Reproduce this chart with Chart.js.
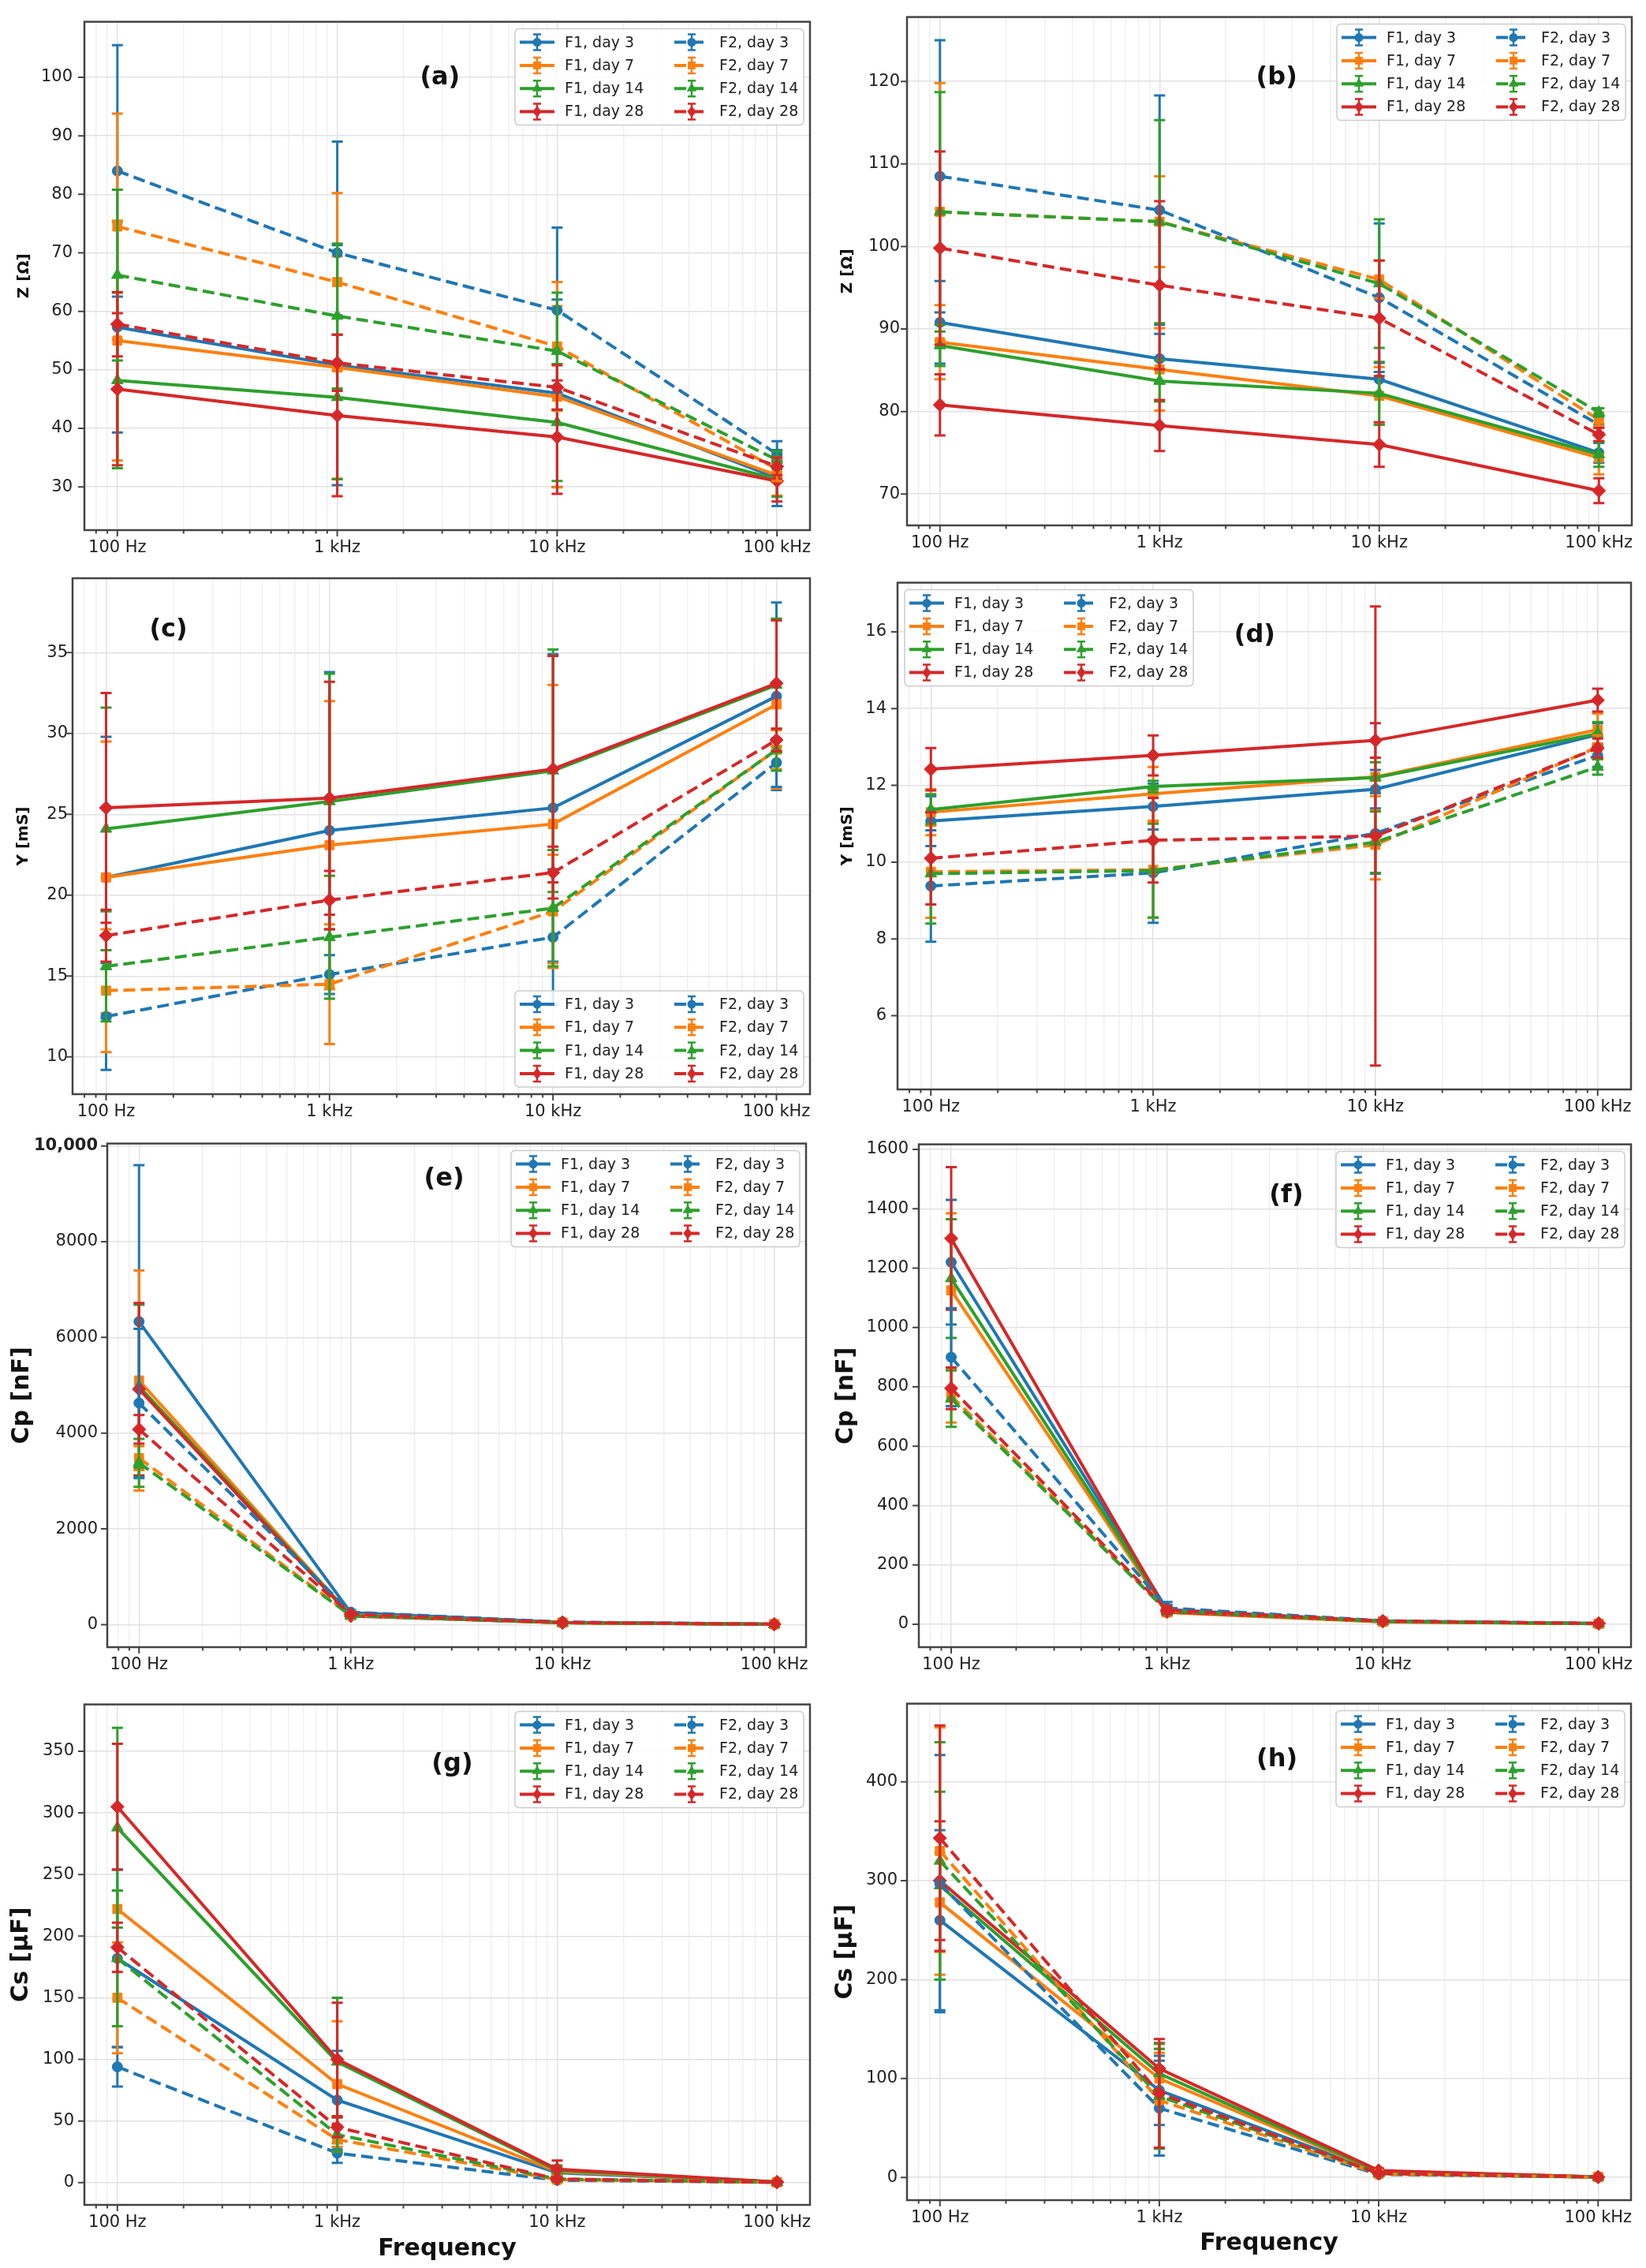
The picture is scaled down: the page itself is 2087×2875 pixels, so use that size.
<!DOCTYPE html>
<html>
<head>
<meta charset="utf-8">
<title>Z, Y, Cp, Cs vs frequency</title>
<script src="https://cdn.jsdelivr.net/npm/chart.js@4.4.1/dist/chart.umd.min.js"></script>
<style>
  html, body { margin: 0; padding: 0; background: #ffffff; }
  body { position: relative; width: 2087px; height: 2875px; overflow: hidden; }
  canvas { position: absolute; }
</style>
</head>
<body>
<canvas id="chart_a"></canvas>
<canvas id="chart_b"></canvas>
<canvas id="chart_c"></canvas>
<canvas id="chart_d"></canvas>
<canvas id="chart_e"></canvas>
<canvas id="chart_f"></canvas>
<canvas id="chart_g"></canvas>
<canvas id="chart_h"></canvas>
<script>
// ---- data ----
const freqs = [100, 1000, 10000, 100000];
const xTickLabels = ['100 Hz', '1 kHz', '10 kHz', '100 kHz'];
const xMinorTicks = [80, 90, 200, 300, 400, 500, 600, 700, 800, 900,
    2000, 3000, 4000, 5000, 6000, 7000, 8000, 9000,
    20000, 30000, 40000, 50000, 60000, 70000, 80000, 90000];
const seriesNames = ['F1, day 3', 'F1, day 7', 'F1, day 14', 'F1, day 28',
    'F2, day 3', 'F2, day 7', 'F2, day 14', 'F2, day 28'];

// rows follow seriesNames, columns follow freqs
const aZ = [
    [57.3, 50.8, 46.0, 31.5],
    [55.0, 50.4, 45.4, 32.0],
    [48.2, 45.3, 41.0, 31.3],
    [46.7, 42.2, 38.5, 31.0],
    [84.0, 70.0, 60.2, 35.6],
    [74.5, 65.0, 54.0, 33.0],
    [66.2, 59.2, 53.2, 34.6],
    [57.8, 51.2, 47.0, 33.5]
];
const aZErr = [
    [18.0, 20.5, 16.0, 4.8],
    [20.5, 19.0, 15.5, 3.5],
    [15.0, 14.0, 10.0, 3.0],
    [13.0, 13.8, 9.7, 3.5],
    [21.5, 19.0, 14.1, 2.2],
    [19.3, 15.2, 11.0, 2.0],
    [14.6, 12.4, 10.0, 1.5],
    [5.5, 4.8, 3.8, 1.5]
];
const aTicks = [30, 40, 50, 60, 70, 80, 90, 100];

const bZ = [
    [90.8, 86.4, 83.9, 75.0],
    [88.4, 85.1, 81.9, 74.4],
    [88.0, 83.7, 82.2, 74.8],
    [80.8, 78.3, 76.0, 70.4],
    [108.5, 104.4, 93.8, 78.4],
    [104.2, 103.0, 96.0, 79.0],
    [104.2, 103.0, 95.5, 79.9],
    [99.8, 95.3, 91.3, 77.2]
];
const bZErr = [
    [5.0, 3.0, 2.0, 1.2],
    [4.5, 5.0, 3.5, 2.0],
    [2.5, 2.5, 3.8, 1.5],
    [3.7, 3.1, 2.7, 1.5],
    [16.5, 13.9, 9.0, 1.0],
    [15.6, 5.5, 2.3, 0.8],
    [14.5, 12.3, 7.8, 0.5],
    [11.7, 10.2, 7.0, 0.8]
];
const bTicks = [70, 80, 90, 100, 110, 120];

const cY = [
    [21.1, 24.0, 25.4, 32.3],
    [21.1, 23.1, 24.4, 31.8],
    [24.1, 25.8, 27.7, 33.0],
    [25.4, 26.0, 27.8, 33.1],
    [12.5, 15.1, 17.4, 28.2],
    [14.1, 14.5, 19.0, 29.0],
    [15.6, 17.4, 19.2, 29.0],
    [17.5, 19.7, 21.4, 29.6]
];
const cYErr = [
    [8.7, 9.8, 9.5, 5.8],
    [8.4, 8.9, 8.6, 5.2],
    [7.5, 7.9, 7.5, 4.1],
    [7.1, 7.2, 7.0, 3.9],
    [3.3, 1.2, 4.2, 1.5],
    [3.8, 3.7, 3.5, 1.2],
    [3.4, 3.8, 3.6, 1.3],
    [1.6, 1.8, 1.6, 0.7]
];
const cTicks = [10, 15, 20, 25, 30, 35];

const dY = [
    [11.07, 11.45, 11.90, 13.32],
    [11.30, 11.78, 12.22, 13.45],
    [11.37, 11.97, 12.20, 13.35],
    [12.42, 12.78, 13.17, 14.22],
    [9.38, 9.72, 10.75, 12.78],
    [9.75, 9.80, 10.45, 13.00],
    [9.70, 9.78, 10.52, 12.48],
    [10.10, 10.57, 10.68, 12.97]
];
const dYErr = [
    [0.65, 0.60, 0.50, 0.30],
    [0.60, 0.70, 0.50, 0.42],
    [0.40, 0.15, 0.40, 0.30],
    [0.55, 0.52, 0.45, 0.30],
    [1.45, 1.30, 1.05, 0.30],
    [1.20, 1.25, 0.90, 0.30],
    [1.30, 1.22, 0.80, 0.20],
    [1.20, 1.10, 5.98, 0.25]
];
const dTicks = [6, 8, 10, 12, 14, 16];

const eCp = [
    [6330, 250, 50, 10],
    [5100, 200, 45, 8],
    [4980, 190, 40, 8],
    [4920, 180, 40, 8],
    [4630, 260, 55, 10],
    [3480, 200, 40, 8],
    [3380, 190, 40, 8],
    [4080, 220, 45, 9]
];
const eCpErr = [
    [3270, 40, 10, 2],
    [2300, 30, 8, 2],
    [1700, 30, 8, 2],
    [1800, 40, 8, 2],
    [1550, 40, 10, 2],
    [250, 30, 8, 2],
    [500, 30, 8, 2],
    [300, 30, 8, 2]
];
const eTicks = [0, 2000, 4000, 6000, 8000, 10000];

const fCp = [
    [1220, 50, 10, 3],
    [1125, 40, 8, 2],
    [1165, 45, 9, 2],
    [1300, 42, 10, 3],
    [900, 55, 12, 3],
    [770, 45, 10, 2],
    [760, 45, 10, 2],
    [795, 48, 11, 3]
];
const fCpErr = [
    [210, 15, 3, 1],
    [260, 10, 2, 1],
    [200, 12, 3, 1],
    [240, 10, 3, 1],
    [165, 20, 4, 1],
    [90, 12, 3, 1],
    [95, 12, 3, 1],
    [70, 12, 3, 1]
];
const fTicks = [0, 200, 400, 600, 800, 1000, 1200, 1400, 1600];

const gCs = [
    [182, 67, 8, 0.5],
    [222, 80, 9, 0.5],
    [288, 98, 10, 0.5],
    [305, 100, 11, 0.5],
    [94, 24, 2, 0.3],
    [150, 35, 2.5, 0.3],
    [182, 39, 3, 0.3],
    [191, 45, 3, 0.3]
];
const gCsErr = [
    [72, 40, 3, 0.3],
    [15, 51, 3, 0.3],
    [81, 52, 4, 0.3],
    [51, 46, 7, 0.3],
    [16, 8, 1, 0.2],
    [45, 10, 1, 0.2],
    [55, 14, 1, 0.2],
    [20, 8, 1, 0.2]
];
const gTicks = [0, 50, 100, 150, 200, 250, 300, 350];

const hCs = [
    [260, 88, 5, 0.5],
    [278, 100, 5.5, 0.5],
    [295, 105, 6, 0.5],
    [300, 110, 7, 0.5],
    [297, 70, 3, 0.3],
    [330, 78, 3.5, 0.3],
    [320, 82, 4, 0.3],
    [343, 85, 4, 0.3]
];
const hCsErr = [
    [91, 35, 2, 0.3],
    [50, 30, 2, 0.3],
    [95, 25, 2, 0.3],
    [60, 26, 2, 0.3],
    [130, 48, 1, 0.2],
    [125, 48, 1, 0.2],
    [120, 53, 1, 0.2],
    [114, 55, 1, 0.2]
];
const hTicks = [0, 100, 200, 300, 400];

// ---- styles ----
const colors = ['#1f77b4', '#ff7f0e', '#2ca02c', '#d62728'];
const markers = ['circle', 'rect', 'triangle', 'rectRot'];
const markerRadius = [6.5, 8.3, 8.5, 8.5];
const fontFamily = "'DejaVu Sans', sans-serif";
const xMin = 70.8, xMax = 141254;

Chart.defaults.color = '#222';
Chart.defaults.font.family = fontFamily;

// page layout of each panel; ca = plot frame inside the canvas
const panels = [
    {id: 'a', left: 0, top: 0, w: 1045, h: 712, ca: {left: 107, top: 24, right: 1027, bottom: 672},
     values: aZ, errors: aZErr, yTicks: aTicks, yMin: 22.6, yMax: 109.5,
     yTitle: 'Z [Ω]', titleSize: 20, titlePad: 19, tickPad: 15, tag: '(a)', tagAt: [0.49, 0.11], legend: 'upper right'},
    {id: 'b', left: 1045, top: 0, w: 1042, h: 712, ca: {left: 105, top: 20, right: 1024, bottom: 666},
     values: bZ, errors: bZErr, yTicks: bTicks, yMin: 66.2, yMax: 127.8,
     yTitle: 'Z [Ω]', titleSize: 20, titlePad: 18, tickPad: 9, tag: '(b)', tagAt: [0.51, 0.12], legend: 'upper right'},
    {id: 'c', left: 0, top: 712, w: 1045, h: 713, ca: {left: 92, top: 21, right: 1027, bottom: 675},
     values: cY, errors: cYErr, yTicks: cTicks, yMin: 7.7, yMax: 39.6,
     yTitle: 'Y [mS]', titleSize: 20, titlePad: 18, tickPad: 6, tag: '(c)', tagAt: [0.13, 0.10], legend: 'lower right'},
    {id: 'd', left: 1045, top: 712, w: 1042, h: 713, ca: {left: 93, top: 25, right: 1023, bottom: 669},
     values: dY, errors: dYErr, yTicks: dTicks, yMin: 4.08, yMax: 17.28,
     yTitle: 'Y [mS]', titleSize: 20, titlePad: 18, tickPad: 14, tag: '(d)', tagAt: [0.487, 0.104], legend: 'upper left'},
    {id: 'e', left: 0, top: 1425, w: 1045, h: 710, ca: {left: 136, top: 15, right: 1022, bottom: 663},
     values: eCp, errors: eCpErr, yTicks: eTicks, yMin: -470, yMax: 10050,
     yTitle: 'Cp [nF]', titleSize: 30, titlePad: 10, tickPad: 12, tag: '(e)', tagAt: [0.482, 0.071], legend: 'upper right'},
    {id: 'f', left: 1045, top: 1425, w: 1042, h: 710, ca: {left: 120, top: 16, right: 1023, bottom: 663},
     values: fCp, errors: fCpErr, yTicks: fTicks, yMin: -77, yMax: 1617,
     yTitle: 'Cp [nF]', titleSize: 30, titlePad: 10, tickPad: 13, tag: '(f)', tagAt: [0.516, 0.102], legend: 'upper right'},
    {id: 'g', left: 0, top: 2135, w: 1045, h: 740, ca: {left: 107, top: 12, right: 1027, bottom: 660},
     values: gCs, errors: gCsErr, yTicks: gTicks, yMin: -18, yMax: 388,
     yTitle: 'Cs [µF]', titleSize: 30, titlePad: 9, tickPad: 13, tag: '(g)', tagAt: [0.507, 0.12], legend: 'upper right',
     xTitle: 'Frequency', xTitlePad: 6},
    {id: 'h', left: 1045, top: 2135, w: 1042, h: 740, ca: {left: 105, top: 10, right: 1023, bottom: 654},
     values: hCs, errors: hCsErr, yTicks: hTicks, yMin: -23, yMax: 479,
     yTitle: 'Cs [µF]', titleSize: 30, titlePad: 9, tickPad: 12, tag: '(h)', tagAt: [0.511, 0.113], legend: 'upper right',
     xTitle: 'Frequency', xTitlePad: 13}
];

function draw_marker(ctx, style, x, y, r) {
    ctx.beginPath();
    if (style === 'circle') {
        ctx.arc(x, y, r, 0, 2 * Math.PI);
    } else if (style === 'rect') {
        const s = r * 0.7;
        ctx.rect(x - s, y - s, 2 * s, 2 * s);
    } else if (style === 'triangle') {
        ctx.moveTo(x, y - r);
        ctx.lineTo(x + r * 0.87, y + r * 0.5);
        ctx.lineTo(x - r * 0.87, y + r * 0.5);
        ctx.closePath();
    } else {
        ctx.moveTo(x, y - r);
        ctx.lineTo(x + r * 0.8, y);
        ctx.lineTo(x, y + r);
        ctx.lineTo(x - r * 0.8, y);
        ctx.closePath();
    }
    ctx.fill();
}

// vertical error bars with caps, drawn just under each line
const errorBarPlugin = {
    id: 'errorBars',
    beforeDatasetDraw(chart, args) {
        const ds = chart.data.datasets[args.index];
        const ctx = chart.ctx;
        const y = chart.scales.y;
        ctx.save();
        ctx.strokeStyle = ds.borderColor;
        ctx.lineWidth = 3;
        ctx.setLineDash([]);
        args.meta.data.forEach((pt, j) => {
            const v = ds.data[j].y;
            const e = ds.errors[j];
            const yTop = y.getPixelForValue(v + e);
            const yBot = y.getPixelForValue(v - e);
            ctx.beginPath();
            ctx.moveTo(pt.x, yTop); ctx.lineTo(pt.x, yBot);
            ctx.moveTo(pt.x - 7, yTop); ctx.lineTo(pt.x + 7, yTop);
            ctx.moveTo(pt.x - 7, yBot); ctx.lineTo(pt.x + 7, yBot);
            ctx.stroke();
        });
        ctx.restore();
    }
};

// boxed two-column legend inside the plot, plus the panel tag
const panelLegendPlugin = {
    id: 'panelLegend',
    afterDatasetsDraw(chart, args, opts) {
        const ctx = chart.ctx;
        const a = chart.chartArea;
        const w = 366, h = 122;
        const bx = opts.corner.includes('right') ? a.right - 8 - w : a.left + 9;
        const by = opts.corner.includes('upper') ? a.top + 9 : a.bottom - 9 - h;
        ctx.save();
        ctx.fillStyle = 'rgba(255,255,255,0.85)';
        ctx.strokeStyle = '#cccccc';
        ctx.lineWidth = 1.5;
        ctx.beginPath();
        ctx.roundRect(bx, by, w, h, 5);
        ctx.fill();
        ctx.stroke();
        chart.data.datasets.forEach((ds, i) => {
            const col = i < 4 ? 0 : 1;
            const row = i % 4;
            const hx = bx + 6 + col * 196;
            const hy = by + 17 + row * 29.3;
            ctx.strokeStyle = ds.borderColor;
            ctx.lineWidth = ds.borderWidth;
            ctx.setLineDash(ds.borderDash);
            ctx.beginPath();
            ctx.moveTo(hx, hy); ctx.lineTo(hx + 44, hy);
            ctx.stroke();
            ctx.setLineDash([]);
            ctx.lineWidth = 2.5;
            ctx.beginPath();
            ctx.moveTo(hx + 22, hy - 10); ctx.lineTo(hx + 22, hy + 10);
            ctx.moveTo(hx + 17, hy - 10); ctx.lineTo(hx + 27, hy - 10);
            ctx.moveTo(hx + 17, hy + 10); ctx.lineTo(hx + 27, hy + 10);
            ctx.stroke();
            ctx.fillStyle = ds.borderColor;
            draw_marker(ctx, ds.pointStyle, hx + 22, hy, ds.pointRadius * 0.85);
            ctx.fillStyle = '#222';
            ctx.font = '19px ' + fontFamily;
            ctx.textBaseline = 'middle';
            ctx.textAlign = 'left';
            ctx.fillText(ds.label, hx + 57, hy + 1);
        });
        ctx.fillStyle = '#111';
        ctx.font = 'bold 32px ' + fontFamily;
        ctx.textAlign = 'center';
        ctx.textBaseline = 'middle';
        ctx.fillText(opts.tag, a.left + opts.tagAt[0] * (a.right - a.left), a.top + opts.tagAt[1] * (a.bottom - a.top));
        ctx.restore();
    }
};

// axes frame and tick marks
const framePlugin = {
    id: 'frame',
    afterDraw(chart) {
        const ctx = chart.ctx;
        const a = chart.chartArea;
        const x = chart.scales.x, y = chart.scales.y;
        ctx.save();
        ctx.strokeStyle = '#444';
        ctx.lineWidth = 2;
        ctx.beginPath();
        x.ticks.forEach(t => {
            const px = x.getPixelForValue(t.value);
            const len = freqs.includes(t.value) ? 8 : 4.5;
            ctx.moveTo(px, a.bottom); ctx.lineTo(px, a.bottom + len);
        });
        y.ticks.forEach(t => {
            const py = y.getPixelForValue(t.value);
            ctx.moveTo(a.left - 8, py); ctx.lineTo(a.left, py);
        });
        ctx.stroke();
        ctx.lineWidth = 2.5;
        ctx.strokeRect(a.left, a.top, a.right - a.left, a.bottom - a.top);
        ctx.restore();
    }
};

function make_datasets(values, errors) {
    return seriesNames.map((name, i) => ({
        label: name,
        data: freqs.map((f, j) => ({x: f, y: values[i][j]})),
        errors: errors[i],
        borderColor: colors[i % 4],
        backgroundColor: colors[i % 4],
        pointBackgroundColor: colors[i % 4],
        pointBorderColor: colors[i % 4],
        borderWidth: 4,
        borderDash: i < 4 ? [] : [15, 7],
        pointStyle: markers[i % 4],
        pointRadius: markerRadius[i % 4],
        pointBorderWidth: 1,
        tension: 0,
        order: 7 - i
    }));
}

function make_chart(p) {
    const canvas = document.getElementById('chart_' + p.id);
    canvas.width = p.w;
    canvas.height = p.h;
    canvas.style.left = p.left + 'px';
    canvas.style.top = p.top + 'px';

    new Chart(canvas, {
        type: 'line',
        data: { datasets: make_datasets(p.values, p.errors) },
        plugins: [errorBarPlugin, panelLegendPlugin, framePlugin],
        options: {
            responsive: false,
            animation: false,
            events: [],
            layout: { padding: { left: 0, top: p.ca.top, right: p.w - p.ca.right, bottom: 0 } },
            plugins: {
                legend: { display: false },
                tooltip: { enabled: false },
                panelLegend: { corner: p.legend, tag: p.tag, tagAt: p.tagAt }
            },
            scales: {
                x: {
                    type: 'logarithmic',
                    min: xMin,
                    max: xMax,
                    afterBuildTicks: s => { s.ticks = freqs.concat(xMinorTicks).sort((u, v) => u - v).map(v => ({value: v})); },
                    afterFit: s => { s.height = p.h - p.ca.bottom; },
                    border: { display: false },
                    grid: {
                        drawTicks: false,
                        lineWidth: 1.5,
                        color: c => (c.tick && freqs.includes(c.tick.value)) ? '#e2e2e2' : '#f0f0f0'
                    },
                    ticks: {
                        autoSkip: false,
                        maxRotation: 0,
                        padding: 10,
                        color: '#222',
                        font: { size: 21 },
                        callback: v => { const k = freqs.indexOf(v); return k >= 0 ? xTickLabels[k] : ''; }
                    },
                    title: p.xTitle ? {
                        display: true,
                        text: p.xTitle,
                        color: '#111',
                        font: { size: 30, weight: 'bold' },
                        padding: { top: 0, bottom: p.xTitlePad }
                    } : { display: false }
                },
                y: {
                    type: 'linear',
                    min: p.yMin,
                    max: p.yMax,
                    afterBuildTicks: s => { s.ticks = p.yTicks.map(v => ({value: v})); },
                    afterFit: s => { s.width = p.ca.left; },
                    border: { display: false },
                    grid: { drawTicks: false, lineWidth: 1.5, color: '#e2e2e2' },
                    ticks: {
                        padding: p.tickPad,
                        color: '#222',
                        font: c => (c.tick && c.tick.value === 10000) ? { size: 21, weight: 'bold' } : { size: 21 },
                        callback: v => v === 10000 ? '10,000' : String(v)
                    },
                    title: {
                        display: true,
                        text: p.yTitle,
                        color: '#111',
                        font: { size: p.titleSize, weight: 'bold' },
                        padding: { top: p.titlePad, bottom: 0 }
                    }
                }
            }
        }
    });
}

panels.forEach(make_chart);
</script>
</body>
</html>
